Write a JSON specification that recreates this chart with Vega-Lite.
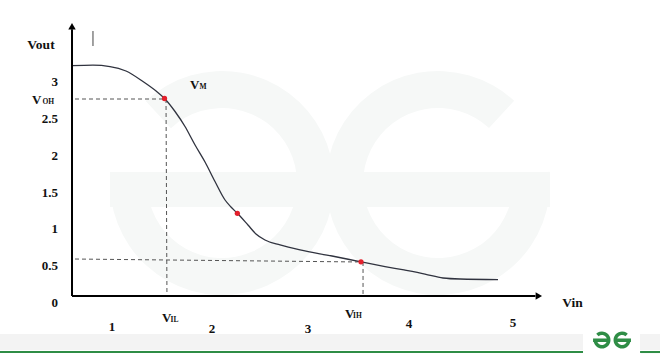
{
  "$schema": "https://vega.github.io/schema/vega-lite/v6.json",
  "width": 660,
  "height": 362,
  "padding": 0,
  "autosize": {"type": "fit", "contains": "padding"},
  "background": "white",
  "config": {"view": {"stroke": null}},
  "datasets": {
    "curve": [
      {"vin": 0.000, "vout": 3.133},
      {"vin": 0.223, "vout": 3.140},
      {"vin": 0.404, "vout": 3.122},
      {"vin": 0.574, "vout": 3.061},
      {"vin": 0.755, "vout": 2.918},
      {"vin": 0.894, "vout": 2.789},
      {"vin": 0.984, "vout": 2.687},
      {"vin": 1.096, "vout": 2.510},
      {"vin": 1.202, "vout": 2.306},
      {"vin": 1.309, "vout": 2.054},
      {"vin": 1.415, "vout": 1.823},
      {"vin": 1.521, "vout": 1.558},
      {"vin": 1.628, "vout": 1.306},
      {"vin": 1.691, "vout": 1.211},
      {"vin": 1.759, "vout": 1.125},
      {"vin": 1.872, "vout": 0.966},
      {"vin": 1.957, "vout": 0.844},
      {"vin": 2.053, "vout": 0.762},
      {"vin": 2.213, "vout": 0.694},
      {"vin": 2.426, "vout": 0.626},
      {"vin": 2.766, "vout": 0.544},
      {"vin": 3.074, "vout": 0.465},
      {"vin": 3.330, "vout": 0.401},
      {"vin": 3.532, "vout": 0.354},
      {"vin": 3.755, "vout": 0.299},
      {"vin": 3.947, "vout": 0.245},
      {"vin": 4.128, "vout": 0.231},
      {"vin": 4.532, "vout": 0.224}
    ],
    "dots": [
      {"vin": 0.984, "vout": 2.687, "point": "VOH"},
      {"vin": 1.759, "vout": 1.125, "point": "VM"},
      {"vin": 3.074, "vout": 0.465, "point": "VIH"}
    ],
    "dashes": [
      {"vin": 0.032, "vin2": 0.968, "vout": 2.680, "vout2": 2.680},
      {"vin": 1.000, "vin2": 1.010, "vout": 2.680, "vout2": 0.0},
      {"vin": 0.032, "vin2": 3.040, "vout": 0.503, "vout2": 0.463},
      {"vin": 3.096, "vin2": 3.096, "vout": 0.463, "vout2": 0.0}
    ],
    "axes": [
      {"vin": 0.0, "vin2": 0.0, "vout": 0.0, "vout2": 3.63},
      {"vin": 0.0, "vin2": 4.93, "vout": 0.0, "vout2": 0.0}
    ],
    "ticks": [
      {"vin": -0.149, "vout": 0, "label": "0"},
      {"vin": -0.149, "vout": 0.5, "label": "0.5"},
      {"vin": -0.149, "vout": 1, "label": "1"},
      {"vin": -0.149, "vout": 1.5, "label": "1.5"},
      {"vin": -0.149, "vout": 2, "label": "2"},
      {"vin": -0.149, "vout": 2.5, "label": "2.5"},
      {"vin": -0.149, "vout": 3, "label": "3"}
    ],
    "titles": [
      {"vin": -0.330, "vout": 3.415, "text": "Vout"},
      {"vin": 5.324, "vout": -0.095, "text": "Vin"}
    ],
    "regions": [
      {"vin": 0.426, "vout": -0.422, "text": "1"},
      {"vin": 1.489, "vout": -0.449, "text": "2"},
      {"vin": 2.511, "vout": -0.449, "text": "3"},
      {"vin": 3.585, "vout": -0.381, "text": "4"},
      {"vin": 4.691, "vout": -0.367, "text": "5"}
    ],
    "vsym": [
      {"vin": -0.426, "vout": 2.612, "text": "V"},
      {"vin": 1.255, "vout": 2.816, "text": "V"},
      {"vin": 0.957, "vout": -0.347, "text": "V"},
      {"vin": 2.904, "vout": -0.299, "text": "V"}
    ],
    "vsub": [
      {"vin": -0.314, "vout": 2.612, "text": "OH"},
      {"vin": 1.356, "vout": 2.816, "text": "M"},
      {"vin": 1.048, "vout": -0.347, "text": "IL"},
      {"vin": 2.989, "vout": -0.299, "text": "IH"}
    ]
  },
  "encoding": {
    "x": {"field": "vin", "type": "quantitative", "scale": {"domain": [-0.766, 6.255], "nice": false, "zero": false}, "axis": null},
    "y": {"field": "vout", "type": "quantitative", "scale": {"domain": [-0.898, 4.027], "nice": false, "zero": false}, "axis": null}
  },
  "layer": [
    {
      "data": {"values": [{"vin": 1.596, "vout": 1.537}]},
      "mark": {"type": "arc", "theta": -0.75, "theta2": 4.81, "outerRadius": 112, "innerRadius": 75, "color": "#f6f8f7"}
    },
    {
      "data": {"values": [{"vin": 3.894, "vout": 1.537}]},
      "mark": {"type": "arc", "theta": 1.47, "theta2": 7.03, "outerRadius": 112, "innerRadius": 75, "color": "#f6f8f7"}
    },
    {
      "data": {"values": [
        {"vin": 0.404, "vin2": 2.394, "vout": 1.687, "vout2": 1.211},
        {"vin": 3.096, "vin2": 5.085, "vout": 1.687, "vout2": 1.211}
      ]},
      "mark": {"type": "rect", "color": "#f6f8f7"},
      "encoding": {"x2": {"field": "vin2"}, "y2": {"field": "vout2"}}
    },
    {
      "data": {"values": [
        {"vin": -0.766, "vin2": 5.436, "vout": -0.517, "vout2": -0.735},
        {"vin": 6.043, "vin2": 6.255, "vout": -0.517, "vout2": -0.735}
      ]},
      "mark": {"type": "rect", "color": "#f3f3f3"},
      "encoding": {"x2": {"field": "vin2"}, "y2": {"field": "vout2"}}
    },
    {
      "data": {"values": [
        {"vin": -0.766, "vin2": 5.436, "vout": -0.748, "vout2": -0.776},
        {"vin": 6.043, "vin2": 6.255, "vout": -0.748, "vout2": -0.776}
      ]},
      "mark": {"type": "rect", "color": "#2f8d46"},
      "encoding": {"x2": {"field": "vin2"}, "y2": {"field": "vout2"}}
    },
    {
      "data": {"values": [{"vin": 5.638, "vout": -0.599}]},
      "mark": {"type": "arc", "theta": -0.75, "theta2": 4.81, "outerRadius": 8.5, "innerRadius": 5, "color": "#2f8d46"}
    },
    {
      "data": {"values": [{"vin": 5.851, "vout": -0.599}]},
      "mark": {"type": "arc", "theta": 1.47, "theta2": 7.03, "outerRadius": 8.5, "innerRadius": 5, "color": "#2f8d46"}
    },
    {
      "data": {"values": [
        {"vin": 5.543, "vin2": 5.702, "vout": -0.578, "vout2": -0.626},
        {"vin": 5.787, "vin2": 5.946, "vout": -0.578, "vout2": -0.626}
      ]},
      "mark": {"type": "rect", "color": "#2f8d46"},
      "encoding": {"x2": {"field": "vin2"}, "y2": {"field": "vout2"}}
    },
    {
      "data": {"name": "dashes"},
      "mark": {"type": "rule", "color": "#555555", "strokeWidth": 1, "strokeDash": [4, 3]},
      "encoding": {"x2": {"field": "vin2"}, "y2": {"field": "vout2"}}
    },
    {
      "data": {"name": "curve"},
      "mark": {"type": "line", "color": "#30333f", "strokeWidth": 1.3, "interpolate": "monotone"}
    },
    {
      "data": {"name": "axes"},
      "mark": {"type": "rule", "color": "#000000", "strokeWidth": 2},
      "encoding": {"x2": {"field": "vin2"}, "y2": {"field": "vout2"}}
    },
    {
      "data": {"values": [{"vin": 0.0, "vout": 3.671}]},
      "mark": {"type": "point", "shape": "triangle-up", "size": 55, "filled": true, "color": "#000000", "opacity": 1}
    },
    {
      "data": {"values": [{"vin": 4.966, "vout": 0.0}]},
      "mark": {"type": "point", "shape": "triangle-right", "size": 55, "filled": true, "color": "#000000", "opacity": 1}
    },
    {
      "data": {"values": [{"vin": 0.223, "vin2": 0.223, "vout": 3.605, "vout2": 3.401}]},
      "mark": {"type": "rule", "color": "#444444", "strokeWidth": 1},
      "encoding": {"x2": {"field": "vin2"}, "y2": {"field": "vout2"}}
    },
    {
      "data": {"name": "dots"},
      "mark": {"type": "point", "filled": true, "color": "#e3202c", "opacity": 1},
      "encoding": {
        "size": {"field": "point", "type": "nominal", "scale": {"domain": ["VOH", "VM", "VIH"], "range": [28, 28, 64]}, "legend": null}
      }
    },
    {
      "data": {"name": "ticks"},
      "mark": {"type": "text", "font": "Liberation Serif", "fontWeight": "bold", "fontSize": 13, "align": "right", "baseline": "middle", "dy": 7, "color": "#111111"},
      "encoding": {"text": {"field": "label"}}
    },
    {
      "data": {"name": "titles"},
      "mark": {"type": "text", "font": "Liberation Serif", "fontWeight": "bold", "fontSize": 13.5, "align": "center", "baseline": "middle", "color": "#111111"},
      "encoding": {"text": {"field": "text"}}
    },
    {
      "data": {"name": "regions"},
      "mark": {"type": "text", "font": "Liberation Serif", "fontWeight": "bold", "fontSize": 13, "align": "center", "baseline": "middle", "color": "#111111"},
      "encoding": {"text": {"field": "text"}}
    },
    {
      "data": {"name": "vsym"},
      "mark": {"type": "text", "font": "Liberation Serif", "fontWeight": "bold", "fontSize": 13, "align": "left", "baseline": "alphabetic", "color": "#111111"},
      "encoding": {"text": {"field": "text"}}
    },
    {
      "data": {"name": "vsub"},
      "mark": {"type": "text", "font": "Liberation Serif", "fontWeight": "bold", "fontSize": 7.5, "align": "left", "baseline": "alphabetic", "color": "#111111"},
      "encoding": {"text": {"field": "text"}}
    }
  ]
}
